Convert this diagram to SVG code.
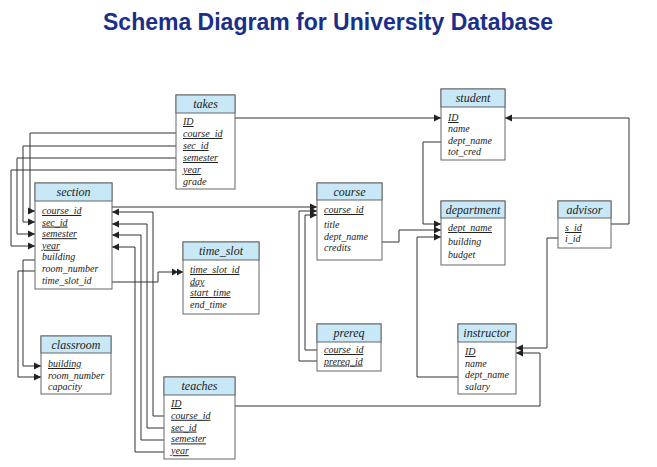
<svg xmlns="http://www.w3.org/2000/svg" width="657" height="467" viewBox="0 0 657 467">
<style>
.box{fill:#fff;stroke:#666;stroke-width:1}
.hd{fill:#c8e8f8;stroke:#666;stroke-width:1}
.ht{font-family:"Liberation Serif",serif;font-style:italic;font-size:12px;fill:#222;text-anchor:middle}
.f{font-family:"Liberation Serif",serif;font-style:italic;font-size:10px;fill:#222}
.k{text-decoration:underline}
.c{fill:none;stroke:#333;stroke-width:1}
.title{font-family:"Liberation Sans",Arial,sans-serif;font-weight:bold;font-size:23px;fill:#1a2f8a;text-anchor:middle}
</style>
<defs>
<marker id="a" markerUnits="userSpaceOnUse" markerWidth="8" markerHeight="8" refX="7" refY="4" orient="auto"><path d="M0,0.5 L7,4 L0,7.5 Z" fill="#222"/></marker>
<marker id="aa" markerUnits="userSpaceOnUse" markerWidth="12" markerHeight="8" refX="11" refY="4" orient="auto"><path d="M0,0.5 L6,4 L0,7.5 Z M5,0.5 L11,4 L5,7.5 Z" fill="#222"/></marker>
</defs>
<text class="title" x="328" y="30">Schema Diagram for University Database</text>

<g id="connectors">
<path class="c" d="M235,118 H441" marker-end="url(#a)"/>
<path class="c" d="M176,133 H30 V211 H35" marker-end="url(#a)"/>
<path class="c" d="M176,146 H23 V222 H35" marker-end="url(#a)"/>
<path class="c" d="M176,158 H17 V234 H35" marker-end="url(#a)"/>
<path class="c" d="M176,170 H11 V246 H35" marker-end="url(#a)"/>
<path class="c" d="M112,207 H317" marker-end="url(#a)"/>
<path class="c" d="M317,361 H299 V211 H317" marker-end="url(#a)"/>
<path class="c" d="M317,350 H305 V215 H317" marker-end="url(#a)"/>
<path class="c" d="M164,416 H153 V212 H112" marker-end="url(#a)"/>
<path class="c" d="M164,428 H147 V224 H112" marker-end="url(#a)"/>
<path class="c" d="M164,440 H141 V235 H112" marker-end="url(#a)"/>
<path class="c" d="M164,452 H135 V247 H112" marker-end="url(#a)"/>
<path class="c" d="M112,282 H158 V272 H183" marker-end="url(#aa)"/>
<path class="c" d="M35,260 H23 V366 H41" marker-end="url(#a)"/>
<path class="c" d="M35,271 H18 V377 H41" marker-end="url(#a)"/>
<path class="c" d="M382,242 H399 V230 H441" marker-end="url(#a)"/>
<path class="c" d="M441,142 H423 V224 H441" marker-end="url(#a)"/>
<path class="c" d="M458,377 H417 V237 H441" marker-end="url(#a)"/>
<path class="c" d="M611,224 H629 V118 H505" marker-end="url(#a)"/>
<path class="c" d="M558,238 H547 V348 H516" marker-end="url(#a)"/>
<path class="c" d="M235,406 H540 V353 H516" marker-end="url(#a)"/>
</g>

<g id="takes">
<rect class="box" x="176" y="95" width="59" height="94"/>
<rect class="hd" x="176" y="95" width="59" height="18"/>
<text class="ht" x="205.5" y="108">takes</text>
<text class="f" x="183" y="125"><tspan class="k">ID</tspan><tspan class="k" x="183" dy="12">course_id</tspan><tspan class="k" x="183" dy="12">sec_id</tspan><tspan class="k" x="183" dy="12">semester</tspan><tspan class="k" x="183" dy="12">year</tspan><tspan x="183" dy="12">grade</tspan></text>
</g>

<g id="section">
<rect class="box" x="35" y="183" width="77" height="106"/>
<rect class="hd" x="35" y="183" width="77" height="18"/>
<text class="ht" x="73.5" y="196">section</text>
<text class="f" x="42" y="214"><tspan class="k">course_id</tspan><tspan class="k" x="42" dy="11.6">sec_id</tspan><tspan class="k" x="42" dy="11.6">semester</tspan><tspan class="k" x="42" dy="11.6">year</tspan><tspan x="42" dy="11.6">building</tspan><tspan x="42" dy="11.6">room_number</tspan><tspan x="42" dy="11.6">time_slot_id</tspan></text>
</g>

<g id="time_slot">
<rect class="box" x="183" y="242" width="76" height="72"/>
<rect class="hd" x="183" y="242" width="76" height="18"/>
<text class="ht" x="221" y="255">time_slot</text>
<text class="f" x="190" y="273"><tspan class="k">time_slot_id</tspan><tspan class="k" x="190" dy="11.5">day</tspan><tspan class="k" x="190" dy="11.5">start_time</tspan><tspan x="190" dy="11.5">end_time</tspan></text>
</g>

<g id="course">
<rect class="box" x="317" y="183" width="65" height="77"/>
<rect class="hd" x="317" y="183" width="65" height="17"/>
<text class="ht" x="349.5" y="196">course</text>
<text class="f" x="324" y="213"><tspan class="k">course_id</tspan><tspan x="324" dy="15">title</tspan><tspan x="324" dy="11.5">dept_name</tspan><tspan x="324" dy="11.5">credits</tspan></text>
</g>

<g id="student">
<rect class="box" x="441" y="89" width="64" height="71"/>
<rect class="hd" x="441" y="89" width="64" height="18"/>
<text class="ht" x="473" y="102">student</text>
<text class="f" x="448" y="121"><tspan class="k">ID</tspan><tspan x="448" dy="11.3">name</tspan><tspan x="448" dy="11.3">dept_name</tspan><tspan x="448" dy="11.3">tot_cred</tspan></text>
</g>

<g id="department">
<rect class="box" x="441" y="201" width="64" height="64"/>
<rect class="hd" x="441" y="201" width="64" height="17"/>
<text class="ht" x="473" y="214">department</text>
<text class="f" x="448" y="231"><tspan class="k">dept_name</tspan><tspan x="448" dy="14">building</tspan><tspan x="448" dy="13">budget</tspan></text>
</g>

<g id="advisor">
<rect class="box" x="558" y="201" width="53" height="47"/>
<rect class="hd" x="558" y="201" width="53" height="17"/>
<text class="ht" x="584.5" y="214">advisor</text>
<text class="f" x="565" y="231"><tspan class="k">s_id</tspan><tspan x="565" dy="11">i_id</tspan></text>
</g>

<g id="prereq">
<rect class="box" x="317" y="324" width="64" height="47"/>
<rect class="hd" x="317" y="324" width="64" height="18"/>
<text class="ht" x="349" y="337">prereq</text>
<text class="f" x="324" y="353"><tspan class="k">course_id</tspan><tspan class="k" x="324" dy="11.5">prereq_id</tspan></text>
</g>

<g id="instructor">
<rect class="box" x="458" y="324" width="58" height="70"/>
<rect class="hd" x="458" y="324" width="58" height="18"/>
<text class="ht" x="487" y="337">instructor</text>
<text class="f" x="465" y="355"><tspan class="k">ID</tspan><tspan x="465" dy="11.7">name</tspan><tspan x="465" dy="11.7">dept_name</tspan><tspan x="465" dy="11.7">salary</tspan></text>
</g>

<g id="classroom">
<rect class="box" x="41" y="336" width="70" height="58"/>
<rect class="hd" x="41" y="336" width="70" height="17"/>
<text class="ht" x="76" y="349">classroom</text>
<text class="f" x="48" y="367"><tspan class="k">building</tspan><tspan x="48" dy="11.5">room_number</tspan><tspan x="48" dy="11.5">capacity</tspan></text>
</g>

<g id="teaches">
<rect class="box" x="164" y="377" width="71" height="82"/>
<rect class="hd" x="164" y="377" width="71" height="18"/>
<text class="ht" x="199.5" y="390">teaches</text>
<text class="f" x="171" y="407"><tspan class="k">ID</tspan><tspan class="k" x="171" dy="11.8">course_id</tspan><tspan class="k" x="171" dy="11.8">sec_id</tspan><tspan class="k" x="171" dy="11.8">semester</tspan><tspan class="k" x="171" dy="11.8">year</tspan></text>
</g>
</svg>
